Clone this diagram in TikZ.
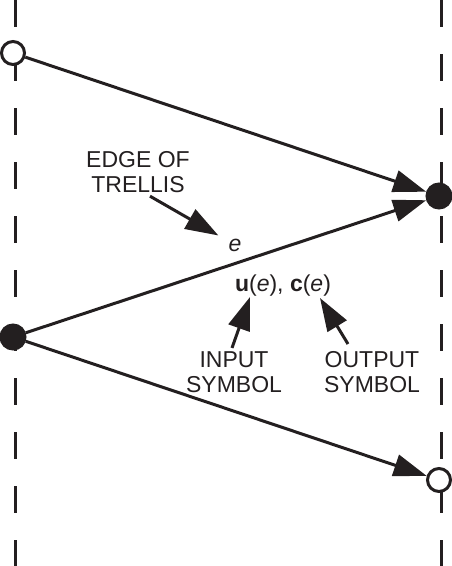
\documentclass[tikz,border=0pt]{standalone}
\usepackage{fontspec}
\setmainfont{Liberation Sans}
\usetikzlibrary{arrows.meta}
\definecolor{ink}{HTML}{231F20}
\tikzset{
  dashline/.style={draw=ink, line width=3pt, dash pattern=on 27pt off 27pt},
  arr/.style={draw=ink, line width=3pt, -{Triangle[length=33pt,width=22pt]}},
  opennode/.style={circle, draw=ink, line width=3pt, fill=white, minimum size=23pt, inner sep=0pt},
  fullnode/.style={circle, draw=ink, line width=3pt, fill=ink, minimum size=24pt, inner sep=0pt},
  lbl/.style={text=ink, align=center, font=\fontsize{23}{25}\selectfont}
}
\begin{document}
\begin{tikzpicture}[x=1pt,y=-1pt]
\useasboundingbox (0,0) rectangle (452,566);
% dashed trellis sections
\coordinate (lt) at (15,0);
\coordinate (lb) at (15,566);
\coordinate (rt) at (441,0);
\coordinate (rb) at (441,566);
\draw[dashline] (lt) -- (lb);
\draw[dashline] (rt) -- (rb);
% states
\node[opennode] (L1) at (13,53) {};
\node[fullnode] (L2) at (13,337) {};
\node[fullnode] (R1) at (439,196) {};
\node[opennode] (R2) at (439,480) {};
% edges
\draw[arr] (L1) -- (R1);
\draw[arr] (L2) -- (R1);
\draw[arr] (L2) -- (R2);
% labels
\node[lbl] (edge) at (138,172) {EDGE OF\\TRELLIS};
\node[lbl, inner sep=10pt] (e) at (235,245) {\itshape e};
\node[lbl] (ue) at (283,286) {\textbf{u}(\textit{e}), \textbf{c}(\textit{e})};
\node[lbl] (in) at (234,372) {INPUT\\SYMBOL};
\node[lbl] (out) at (372,372) {OUTPUT\\SYMBOL};
\coordinate (uTip) at (250,297);
\coordinate (cTip) at (320,298);
\coordinate (outS) at (348,344);
\draw[arr] ([xshift=12pt]edge.south) -- (e);
\draw[arr] ([xshift=-2pt]in.north) -- (uTip);
\draw[arr] (outS) -- (cTip);
\end{tikzpicture}
\end{document}
